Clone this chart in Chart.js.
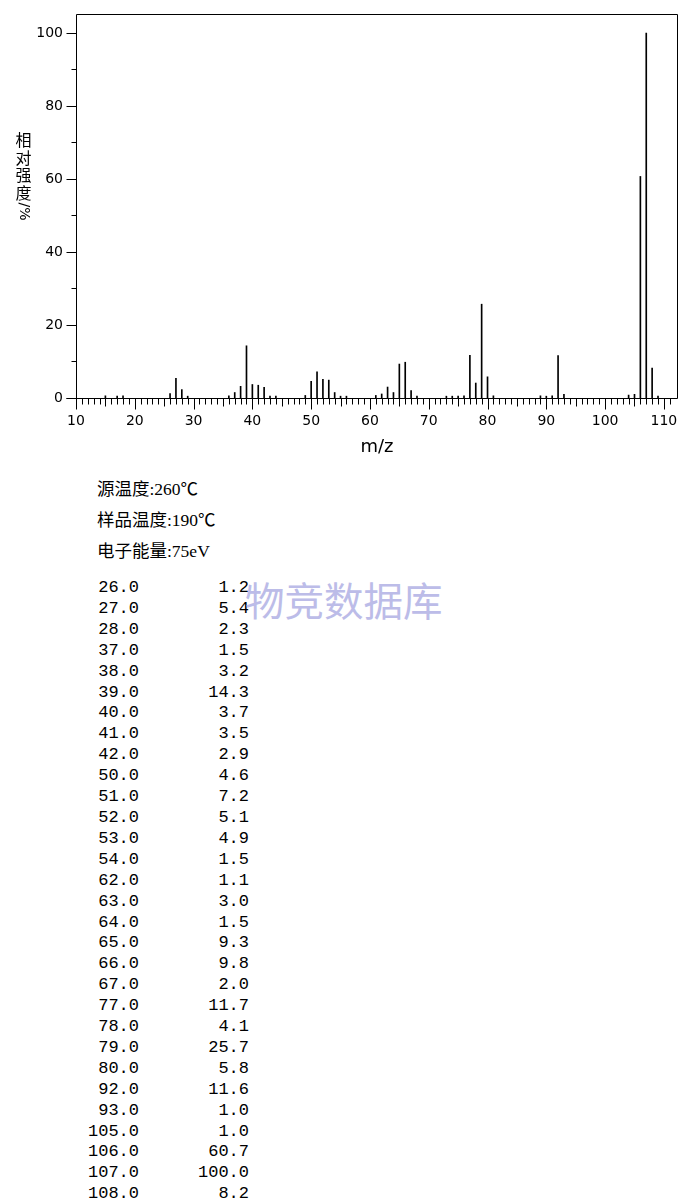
<!DOCTYPE html>
<html>
<head>
<meta charset="utf-8">
<script src="https://cdn.jsdelivr.net/npm/chart.js@4/dist/chart.umd.min.js"></script>
<style>
  body { margin: 0; background: #fff; width: 687px; height: 1201px; position: relative; overflow: hidden; }
  #wrap { position: absolute; left: 0; top: 0; width: 687px; height: 470px; }
  .ytitle { position: absolute; left: 15px; top: 131px; width: 17px; text-align: center; font: 16px "Noto Sans CJK SC"; line-height: 17.7px; color: #000; }
  .ypct { position: absolute; left: 13px; top: 203px; width: 22px; height: 17px; text-align: center; font: 14px "DejaVu Sans"; line-height: 17px; color: #000; transform: rotate(90deg); }
  .info { position: absolute; left: 97px; font: 17.5px "Liberation Serif", "Noto Sans CJK SC"; line-height: 20px; color: #000; white-space: nowrap; }
  #peaks { position: absolute; left: 0; top: 578px; font: 17px "Liberation Mono", monospace; line-height: 20.9px; color: #000; }
  #peaks span { display: inline-block; text-align: right; }
  #peaks .c1 { width: 139px; }
  #peaks .c2 { width: 110px; }
  .mark { position: absolute; left: 245px; top: 579px; font: 39.5px "Noto Sans CJK SC"; line-height: 39px; color: #bcbce8; white-space: nowrap; }
</style>
</head>
<body>
<div id="wrap"><canvas id="ms"></canvas></div>
<div class="ytitle">相<br>对<br>强<br>度</div>
<div class="ypct">/%</div>
<div class="info" style="top:479px">源温度:260℃</div>
<div class="info" style="top:510px">样品温度:190℃</div>
<div class="info" style="top:541px">电子能量:75eV</div>
<div id="peaks"></div>
<div class="mark">物竞数据库</div>
<script>
// peaks listed in the table
var mz = [26, 27, 28, 37, 38, 39, 40, 41, 42, 50, 51, 52, 53, 54, 62, 63, 64, 65, 66, 67,
          77, 78, 79, 80, 92, 93, 105, 106, 107, 108];
var intensity = [1.2, 5.4, 2.3, 1.5, 3.2, 14.3, 3.7, 3.5, 2.9, 4.6, 7.2, 5.1, 4.9, 1.5, 1.1, 3.0, 1.5, 9.3, 9.8, 2.0,
                 11.7, 4.1, 25.7, 5.8, 11.6, 1.0, 1.0, 60.7, 100.0, 8.2];
// small peaks (<1%) only visible on the plot
var minorMz = [15, 17, 18, 29, 36, 43, 44, 49, 55, 56, 61, 68, 73, 74, 75, 76, 81, 89, 90, 91, 104, 109];
var minorInt = [0.6, 0.5, 0.6, 0.5, 0.6, 0.5, 0.5, 0.7, 0.5, 0.5, 0.7, 0.5, 0.5, 0.5, 0.5, 0.6, 0.6, 0.6, 0.5, 0.6, 0.8, 0.5];

var xLabels = [10, 20, 30, 40, 50, 60, 70, 80, 90, 100, 110];
var yLabels = [0, 20, 40, 60, 80, 100];

// table under the chart
var rows = '';
for (var i = 0; i < mz.length; i++) {
  rows += '<div><span class="c1">' + mz[i].toFixed(1) + '</span><span class="c2">' + intensity[i].toFixed(1) + '</span></div>';
}
document.getElementById('peaks').innerHTML = rows;

// frame + tick marks of different lengths
var axisMarks = {
  id: 'axisMarks',
  afterDraw: function (chart) {
    var ctx = chart.ctx, a = chart.chartArea, xs = chart.scales.x, ys = chart.scales.y;
    ctx.save();
    ctx.strokeStyle = '#000';
    ctx.lineWidth = 1;
    ctx.beginPath();
    var l = a.left + 0.5, r = a.right - 0.5, t = a.top + 0.5, b = a.bottom + 0.5;
    ctx.moveTo(l, b); ctx.lineTo(l, t); ctx.lineTo(r, t); ctx.lineTo(r, b); ctx.lineTo(l - 10, b);
    xs.ticks.forEach(function (tk) {
      var v = tk.value;
      if (v !== Math.round(v)) return;
      var px = Math.round(xs.getPixelForValue(v)) + 0.5;
      var len = v % 10 === 0 ? 11 : (v % 5 === 0 ? 8 : 6);
      ctx.moveTo(px, b); ctx.lineTo(px, b + len);
    });
    ys.ticks.forEach(function (tk) {
      var v = tk.value;
      if (v % 10 !== 0 || v > 100) return;
      var py = Math.round(ys.getPixelForValue(v)) + 0.5;
      var len = v % 20 === 0 ? 10 : 5;
      ctx.moveTo(l - len, py); ctx.lineTo(l, py);
    });
    ctx.stroke();
    ctx.restore();
  }
};

new Chart('ms', {
  type: 'bar',
  data: {
    datasets: [
      {
        data: mz.map(function (m, i) { return { x: m, y: intensity[i] }; }),
        backgroundColor: '#000',
        barThickness: 1,
        grouped: false
      },
      {
        data: minorMz.map(function (m, i) { return { x: m, y: minorInt[i] }; }),
        backgroundColor: '#000',
        barThickness: 1,
        grouped: false
      }
    ]
  },
  options: {
    responsive: true,
    maintainAspectRatio: false,
    animation: false,
    events: [],
    layout: { padding: { top: 14, right: 9, left: 0, bottom: 0 } },
    plugins: { legend: { display: false }, tooltip: { enabled: false } },
    scales: {
      x: {
        type: 'linear',
        offset: false,
        min: 10,
        max: 112.4,
        afterFit: function (s) { s.height = 72; s.paddingLeft = 0; s.paddingRight = 0; },
        grid: { display: false, drawTicks: false },
        border: { display: false },
        ticks: {
          stepSize: 1,
          autoSkip: false,
          maxRotation: 0,
          padding: 15,
          color: '#000',
          font: { family: 'DejaVu Sans', size: 14 },
          callback: function (v) { return xLabels.indexOf(v) >= 0 ? String(v) : ''; }
        },
        title: {
          display: true,
          text: 'm/z',
          color: '#000',
          font: { family: 'DejaVu Sans', size: 18 },
          padding: { top: 0, bottom: 12 }
        }
      },
      y: {
        min: 0,
        max: 105.2,
        afterFit: function (s) { s.width = 76; s.paddingTop = 0; s.paddingBottom = 0; },
        grid: { display: false, drawTicks: false },
        border: { display: false },
        ticks: {
          stepSize: 10,
          padding: 13,
          color: '#000',
          font: { family: 'DejaVu Sans', size: 14 },
          callback: function (v) { return yLabels.indexOf(v) >= 0 ? String(v) : ''; }
        }
      }
    }
  },
  plugins: [axisMarks]
});
</script>
</body>
</html>
